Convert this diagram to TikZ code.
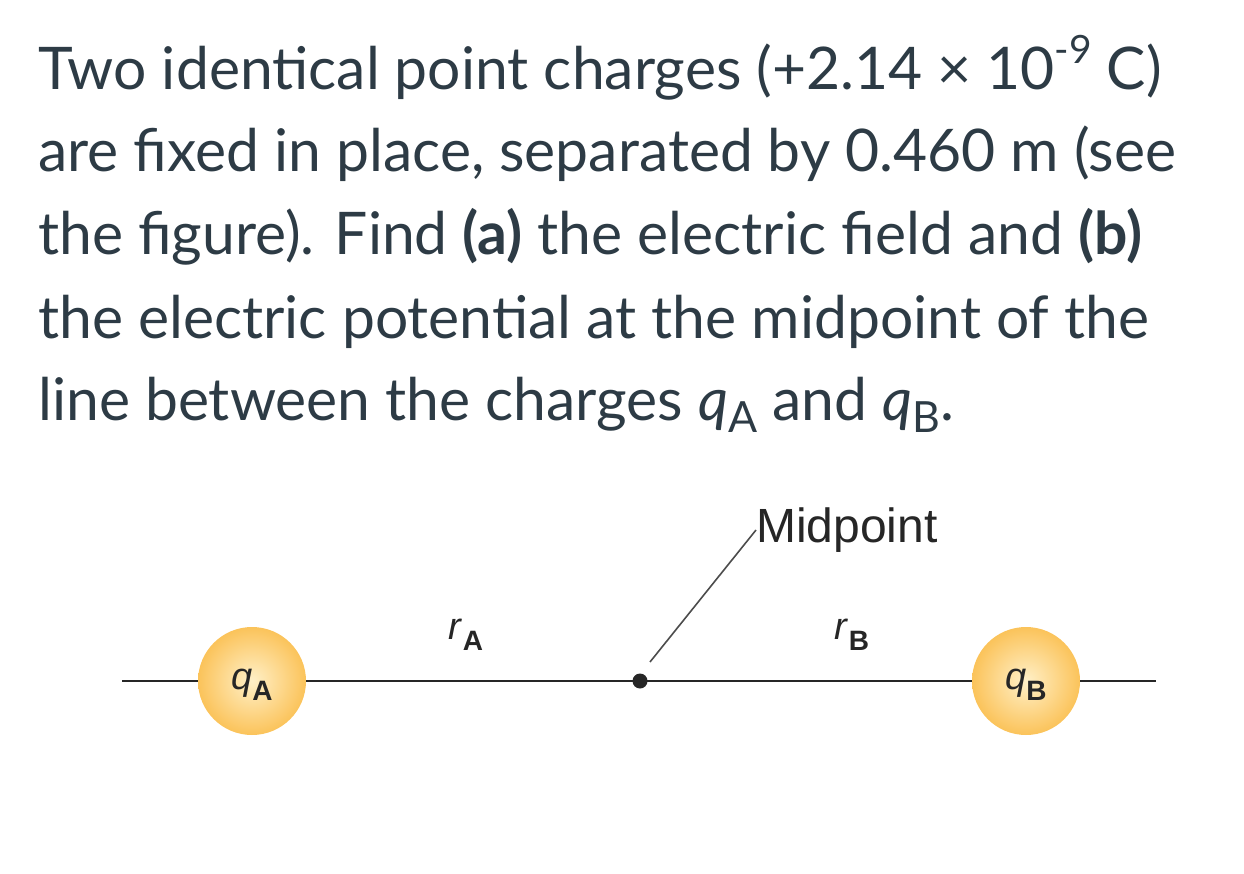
\documentclass[tikz,border=0pt]{standalone}
\usepackage{fontspec}
\setmainfont{Lato}
\newfontfamily\figfont{Liberation Sans}
\definecolor{txt}{HTML}{2D3B45}
\definecolor{ballin}{HTML}{FFF0C8}
\definecolor{ballout}{HTML}{FBC35A}
\newcommand{\subA}[1]{\raisebox{-0.22em}{\fontsize{43}{43}\selectfont #1}}
\begin{document}
\begin{tikzpicture}[x=1pt,y=-1pt,
  line/.style={anchor=base west,inner sep=0pt,font=\fontsize{58.8}{61}\selectfont,text=txt},
  ball/.style={circle,minimum size=108pt,inner sep=0pt,inner color=ballin,outer color=ballout,draw=none},
  lab/.style={font=\figfont\fontsize{38}{40}\selectfont,text=black!85,inner sep=0pt}]
\useasboundingbox (0,0) rectangle (1244,874);
\node[line] (l1) at (38,90) {Two identical point charges (+2.14 × 10\raisebox{0.45em}{\fontsize{39}{39}\selectfont -9} C)};
\node[line] (l2) at (38,172) {are fixed in place, separated by 0.460 m (see};
\node[line] (l3) at (38,255) {the figure). Find \textbf{(a)} the electric field and \textbf{(b)}};
\node[line] (l4) at (38,338) {the electric potential at the midpoint of the};
\node[line] (l5) at (38,420) {line between the charges \textit{q}\subA{A} and \textit{q}\subA{B}.};
\coordinate (le) at (122,681);
\coordinate (re) at (1156,681);
\node[ball] (qA) at (252,681) {};
\node[ball] (qB) at (1026,681) {};
\draw[line width=2.4pt,black!85] (le) -- (qA.west) (qA.east) -- (qB.west) (qB.east) -- (re);
\node[lab] at (252,685) {\textit{q}\raisebox{-0.3em}{\fontsize{28}{28}\selectfont\bfseries A}};
\node[lab] at (1026,685) {\textit{q}\raisebox{-0.3em}{\fontsize{28}{28}\selectfont\bfseries B}};
\node[lab] (rA) at (466,635) {\textit{r}\raisebox{-0.3em}{\fontsize{28}{28}\selectfont\bfseries A}};
\node[lab] (rB) at (852,635) {\textit{r}\raisebox{-0.3em}{\fontsize{28}{28}\selectfont\bfseries B}};
\node[circle,fill=black!85,minimum size=15pt,inner sep=0pt] (mid) at (640,681) {};
\node[lab,anchor=west,font=\figfont\fontsize{48}{50}\selectfont] (mt) at (756,530) {Midpoint};
\draw[line width=1.6pt,black!70] (650,662) -- (mt.west);
\end{tikzpicture}
\end{document}
